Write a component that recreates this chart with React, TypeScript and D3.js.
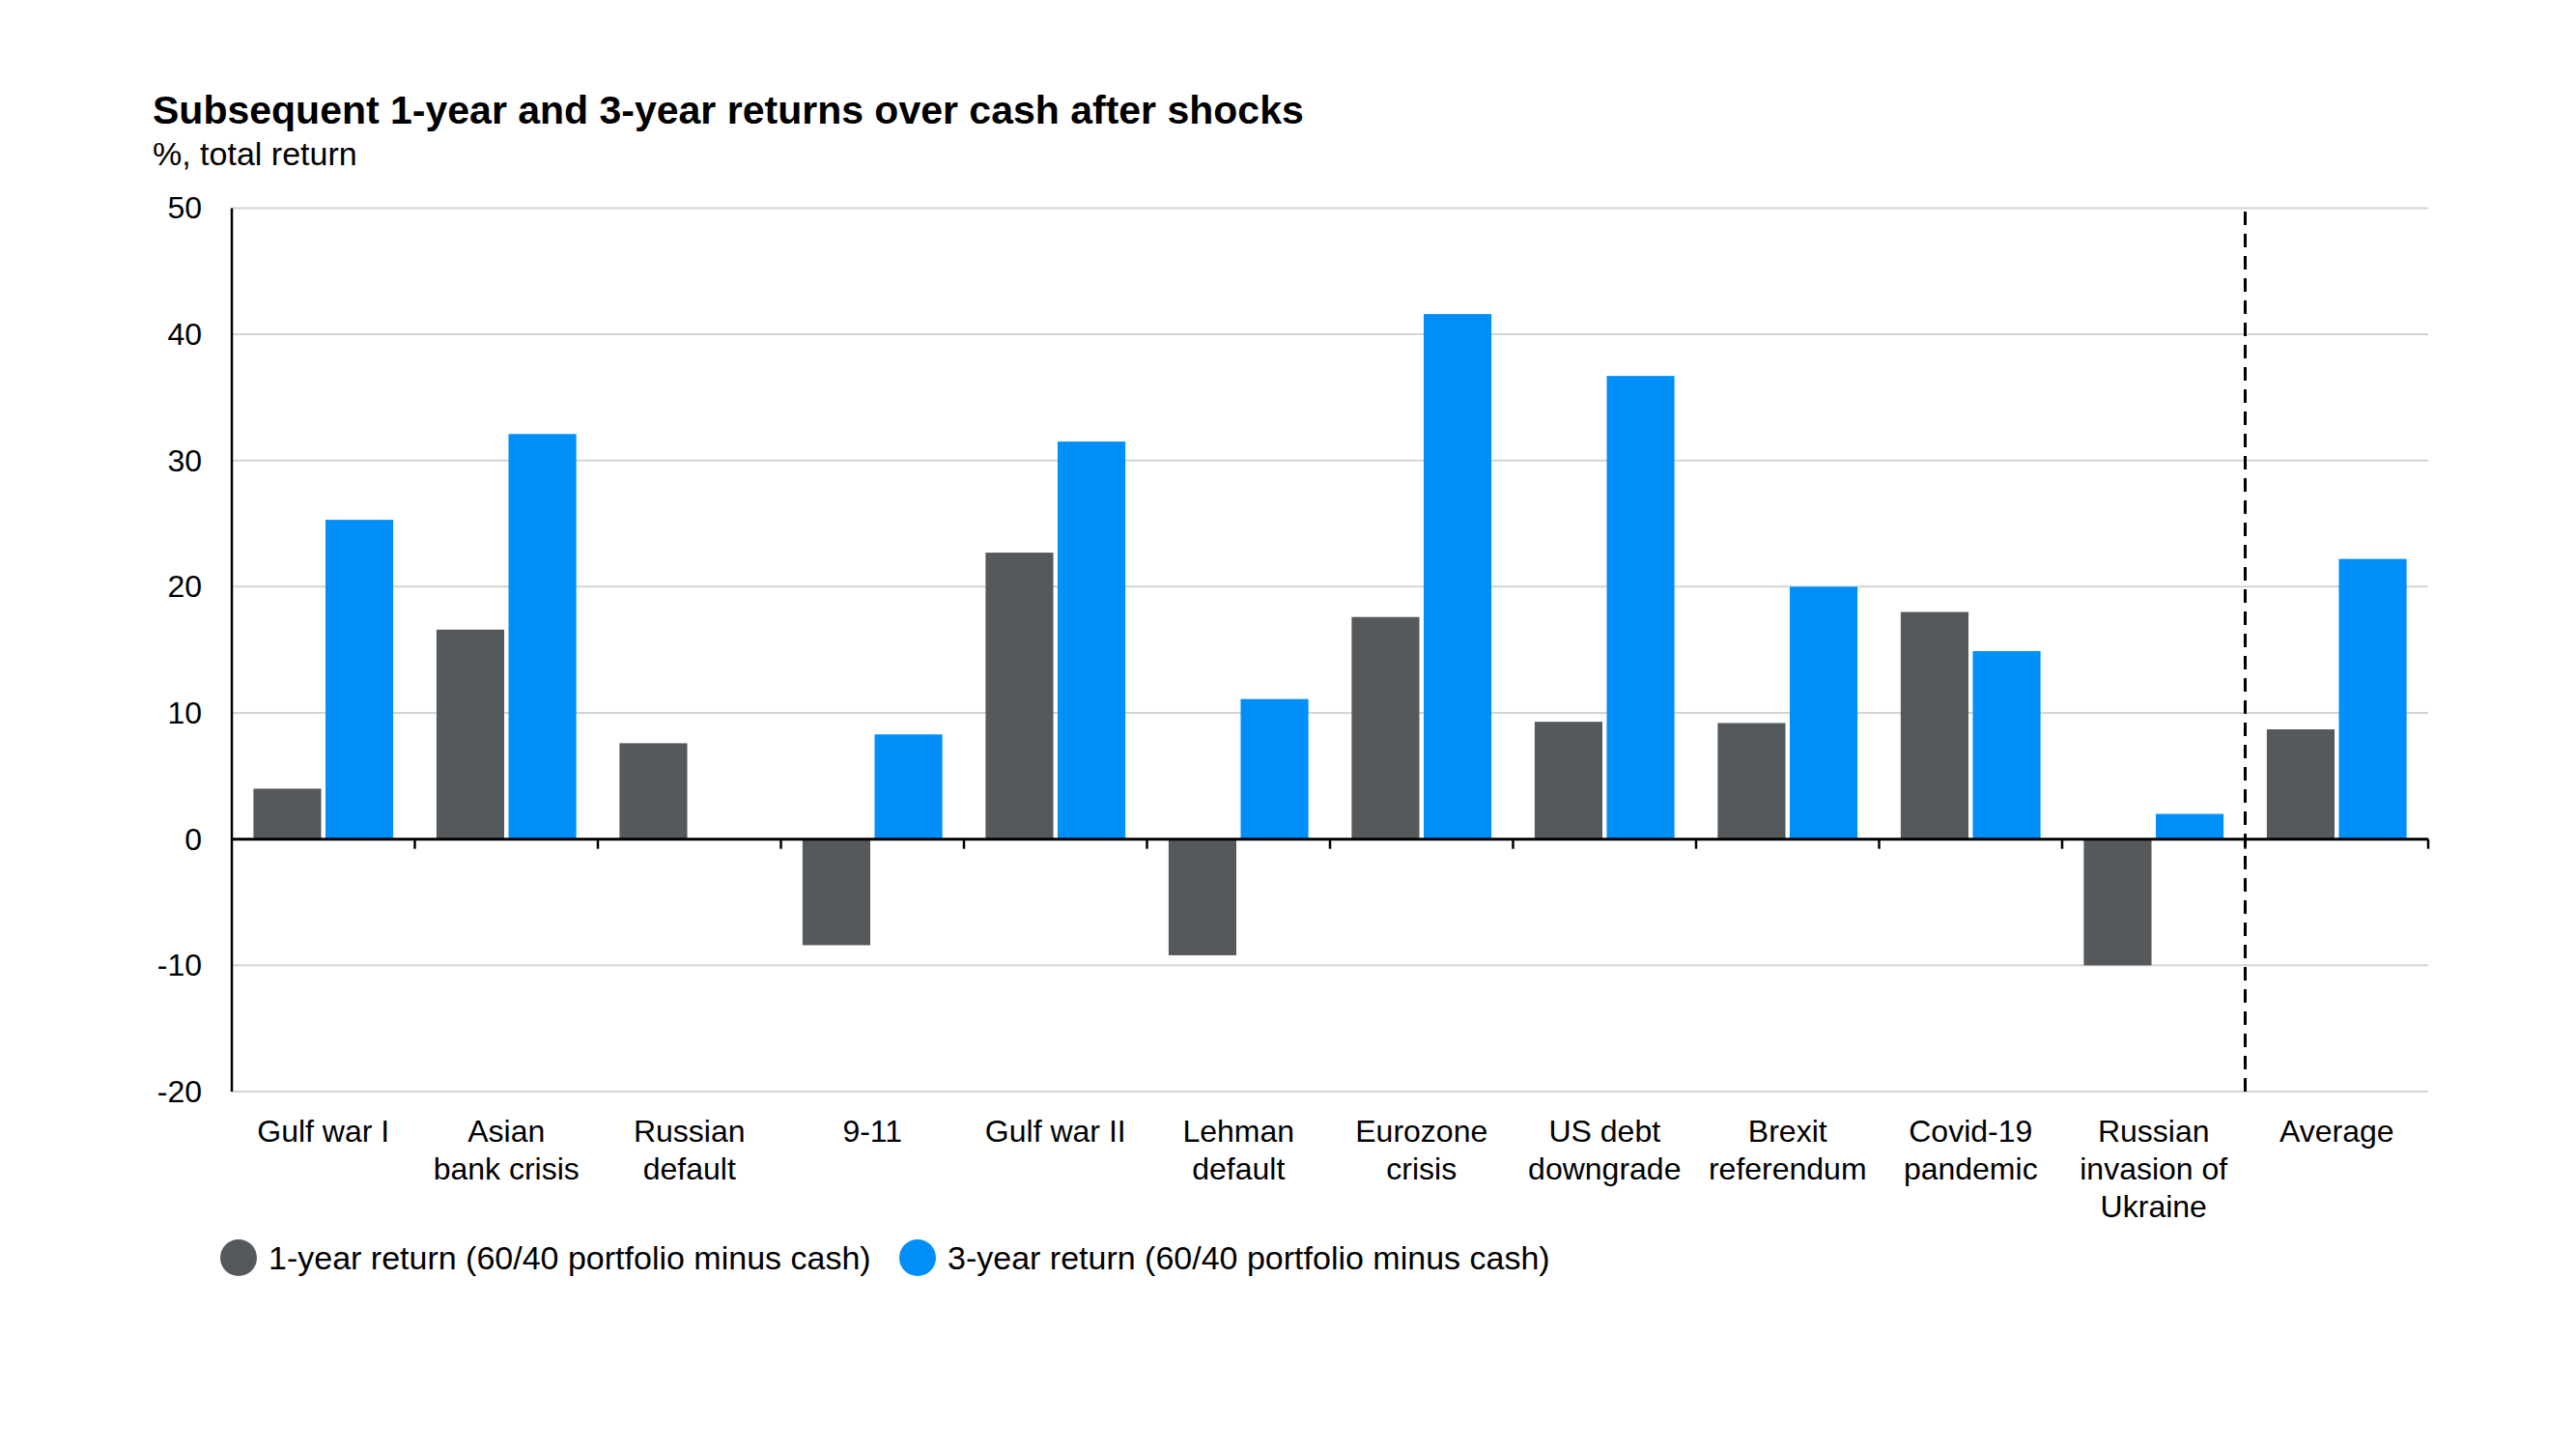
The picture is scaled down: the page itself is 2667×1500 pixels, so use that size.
import React from "react";
import * as d3 from "d3";

const categories: string[][] = [
  ["Gulf war I"],
  ["Asian", "bank crisis"],
  ["Russian", "default"],
  ["9-11"],
  ["Gulf war II"],
  ["Lehman", "default"],
  ["Eurozone", "crisis"],
  ["US debt", "downgrade"],
  ["Brexit", "referendum"],
  ["Covid-19", "pandemic"],
  ["Russian", "invasion of", "Ukraine"],
  ["Average"],
];
const oneYear: (number | null)[] = [4.0, 16.6, 7.6, -8.4, 22.7, -9.2, 17.6, 9.3, 9.2, 18.0, -10.0, 8.7];
const threeYear: (number | null)[] = [25.3, 32.1, null, 8.3, 31.5, 11.1, 41.6, 36.7, 20.0, 14.9, 2.0, 22.2];
const yTicks = [-20, -10, 0, 10, 20, 30, 40, 50];
const seriesNames = ["1-year return (60/40 portfolio minus cash)", "3-year return (60/40 portfolio minus cash)"];
const seriesColors = ["#55595c", "#008ff8"];
const title = "Subsequent 1-year and 3-year returns over cash after shocks";
const subtitle = "%, total return";

const W = 2667;
const H = 1500;
const FONT = "'Liberation Sans', Arial, sans-serif";

export default function App() {
  const keys = categories.map((_, i) => String(i));
  const x = d3.scaleBand<string>().domain(keys).range([240, 2514]).padding(0);
  const xs = d3
    .scaleBand<string>()
    .domain(["a", "b"])
    .range([0, x.bandwidth()])
    .paddingOuter(0.3)
    .paddingInner(0.06);
  const y = d3.scaleLinear().domain([-20, 50]).range([1130, 215.4]);
  const y0 = y(0);
  const series = [oneYear, threeYear];
  const subKeys = ["a", "b"];
  const dashX = x(String(categories.length - 1))!;

  return (
    <svg
      width={W}
      height={H}
      style={{ position: "absolute", left: 0, top: 0, background: "#fff" }}
      fontFamily={FONT}
    >
      <rect x={0} y={0} width={W} height={H} fill="#fff" />
      <text x={158} y={128} fontSize={41} fontWeight="bold" fill="#000">
        {title}
      </text>
      <text x={158} y={171} fontSize={34} fill="#000">
        {subtitle}
      </text>

      {/* gridlines */}
      {yTicks
        .filter((t) => t !== 0)
        .map((t) => (
          <line key={t} x1={240} x2={2514} y1={y(t)} y2={y(t)} stroke="#d4d4d4" strokeWidth={2} />
        ))}

      {/* bars */}
      {series.map((vals, si) =>
        vals.map((v, i) =>
          v === null ? null : (
            <rect
              key={`${si}-${i}`}
              x={x(String(i))! + xs(subKeys[si])!}
              width={xs.bandwidth()}
              y={Math.min(y(v), y0)}
              height={Math.abs(y(v) - y0)}
              fill={seriesColors[si]}
            />
          )
        )
      )}

      {/* y axis */}
      <line x1={240} x2={240} y1={y(50)} y2={y(-20)} stroke="#000" strokeWidth={2.5} />
      {yTicks.map((t) => (
        <text key={t} x={209} y={y(t)} fontSize={32} textAnchor="end" dominantBaseline="central" fill="#000">
          {t}
        </text>
      ))}

      {/* x axis */}
      <line x1={240} x2={2514} y1={y0} y2={y0} stroke="#000" strokeWidth={3} />
      {keys.map((k) => (
        <line key={k} x1={x(k)! + x.bandwidth()} x2={x(k)! + x.bandwidth()} y1={y0} y2={y0 + 10} stroke="#000" strokeWidth={2.5} />
      ))}
      {categories.map((lines, i) => (
        <text key={i} x={x(String(i))! + x.bandwidth() / 2} y={1182} fontSize={32} textAnchor="middle" fill="#000">
          {lines.map((l, j) => (
            <tspan key={j} x={x(String(i))! + x.bandwidth() / 2} dy={j === 0 ? 0 : 39}>
              {l}
            </tspan>
          ))}
        </text>
      ))}

      {/* dashed separator */}
      <line x1={dashX} x2={dashX} y1={219} y2={y(-20)} stroke="#000" strokeWidth={3} strokeDasharray="14 9" />

      {/* legend */}
      <circle cx={247} cy={1302} r={19} fill={seriesColors[0]} />
      <text x={278} y={1302} fontSize={34} dominantBaseline="central" fill="#000">
        {seriesNames[0]}
      </text>
      <circle cx={950} cy={1302} r={19} fill={seriesColors[1]} />
      <text x={981} y={1302} fontSize={34} dominantBaseline="central" fill="#000">
        {seriesNames[1]}
      </text>
    </svg>
  );
}
